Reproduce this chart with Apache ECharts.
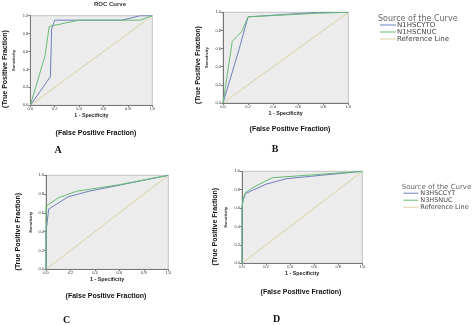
<!DOCTYPE html>
<html><head><meta charset="utf-8">
<script src="https://cdn.jsdelivr.net/npm/echarts@6/dist/echarts.min.js"></script>
<style>html,body{margin:0;padding:0;background:#fff}#c{width:474px;height:325px}</style>
</head><body><div id="c"></div>
<script>
// ---- data ----
const tickValues = [0, 0.2, 0.4, 0.6, 0.8, 1.0];
const refX = [0, 1];
const refY = [0, 1];
// Panel A
const aCytoX = [0, 0.165, 0.175, 0.2, 0.75, 0.9, 1];
const aCytoY = [0, 0.32, 0.85, 0.95, 0.95, 1, 1];
const aNucX = [0, 0.12, 0.155, 0.19, 0.4, 0.9, 0.9, 1];
const aNucY = [0, 0.55, 0.88, 0.89, 0.95, 0.95, 0.97, 1];
// Panel B
const bCytoX = [0, 0.13, 0.2, 0.76, 1];
const bCytoY = [0, 0.6, 0.95, 1, 1];
const bNucX = [0, 0.074, 0.15, 0.2, 0.76, 1];
const bNucY = [0, 0.68, 0.79, 0.95, 0.99, 1];
// Panel C
const cCytoX = [0, 0, 0.022, 0.18, 0.35, 1];
const cCytoY = [0, 0.4, 0.64, 0.77, 0.83, 1];
const cNucX = [0, 0, 0.1, 0.25, 0.6, 1];
const cNucY = [0, 0.67, 0.76, 0.83, 0.9, 1];
// Panel D
const dCytoX = [0, 0, 0.01, 0.03, 0.05, 0.2, 0.37, 1];
const dCytoY = [0, 0.62, 0.69, 0.76, 0.77, 0.86, 0.92, 1];
const dNucX = [0, 0, 0.01, 0.03, 0.1, 0.25, 1];
const dNucY = [0, 0.6, 0.7, 0.77, 0.83, 0.93, 1];
const legend1 = ['N1HSCYTO', 'N1HSCNUC', 'Reference Line'];
const legend2 = ['N3HSCCYT', 'N3HSNUC', 'Reference Line'];
const panelLetters = ['A', 'B', 'C', 'D'];

// ---- style ----
const BLUE = '#6f7fbd', GREEN = '#66bb74', REF = '#d9d0a3';
const zip = (xs, ys) => xs.map((x, i) => [x, ys[i]]);
const grids = [
  {left: 30.3, top: 15.7, width: 122, height: 89.6},
  {left: 223, top: 12.3, width: 125.3, height: 90.7},
  {left: 46, top: 175.3, width: 122.3, height: 94},
  {left: 242, top: 171.3, width: 120.3, height: 92}
];
const lblFont = {fontFamily: 'Liberation Sans, Arial', fontSize: 4, color: '#333'};
const axisCommon = i => ({
  type: 'value', gridIndex: i, min: 0, max: 1, interval: 0.2,
  axisLine: {show: true, lineStyle: {color: '#777', width: 1}},
  axisTick: {show: true, length: 2, lineStyle: {color: '#777'}},
  splitLine: {show: false},
  axisLabel: Object.assign({margin: 2, formatter: v => v.toFixed(1)}, lblFont),
  nameTextStyle: {fontFamily: 'Liberation Sans, Arial', fontWeight: 'bold', color: '#222'}
});
const xAxes = grids.map((g, i) => Object.assign(axisCommon(i), {
  name: '1 - Specificity', nameLocation: 'middle', nameGap: 8,
  nameTextStyle: {fontFamily: 'Liberation Sans, Arial', fontWeight: 'bold', fontSize: 5.3, color: '#222'}
}));
const yGaps = [14, 14, 13, 13.7];
const yAxes = grids.map((g, i) => Object.assign(axisCommon(i), {
  name: 'Sensitivity', nameLocation: 'middle', nameGap: yGaps[i], nameRotate: 90,
  nameTextStyle: {fontFamily: 'Liberation Sans, Arial', fontWeight: 'bold', fontSize: 4.2, color: '#222'}
}));
const panels = [
  [legend1, aCytoX, aCytoY, aNucX, aNucY],
  [legend1, bCytoX, bCytoY, bNucX, bNucY],
  [legend2, cCytoX, cCytoY, cNucX, cNucY],
  [legend2, dCytoX, dCytoY, dNucX, dNucY]
];
const series = [];
panels.forEach((p, i) => {
  const base = {type: 'line', xAxisIndex: i, yAxisIndex: i, showSymbol: false, symbol: 'none', animation: false, silent: true};
  series.push(Object.assign({}, base, {name: p[0][2], data: zip(refX, refY), lineStyle: {color: REF, width: 1}, itemStyle: {color: REF}, z: 1}));
  series.push(Object.assign({}, base, {name: p[0][0], data: zip(p[1], p[2]), lineStyle: {color: BLUE, width: 1}, itemStyle: {color: BLUE}, z: 2}));
  series.push(Object.assign({}, base, {name: p[0][1], data: zip(p[3], p[4]), lineStyle: {color: GREEN, width: 1}, itemStyle: {color: GREEN}, z: 3}));
});

const big = {fontFamily: 'Liberation Sans, Arial', fontWeight: 'bold', fontSize: 7, fill: '#111', textAlign: 'center', textVerticalAlign: 'middle'};
const letter = {fontFamily: 'Liberation Serif, Times New Roman', fontWeight: 'bold', fontSize: 10, fill: '#111', textAlign: 'center', textVerticalAlign: 'middle'};
const tpf = [[5, 69], [197.7, 65], [18.3, 231.7], [215, 226.7]];
const fpf = [[96, 133], [290, 129], [106, 296], [301, 292]];
const lts = [[58, 150], [275, 149], [66.7, 320], [276.7, 319.3]];
const graphics = [
  {type: 'text', x: 110, y: 4.5, style: {text: 'ROC Curve', fontFamily: 'Liberation Sans, Arial', fontWeight: 'bold', fontSize: 6, fill: '#333', textAlign: 'center', textVerticalAlign: 'middle'}},
  {type: 'text', x: 378, y: 19, style: {text: 'Source of the Curve', fontFamily: 'DejaVu Sans', fontSize: 8, fill: '#666', textAlign: 'left', textVerticalAlign: 'middle'}},
  {type: 'text', x: 401.7, y: 187, style: {text: 'Source of the Curve', fontFamily: 'DejaVu Sans', fontSize: 7, fill: '#666', textAlign: 'left', textVerticalAlign: 'middle'}}
];
tpf.forEach(p => graphics.push({type: 'text', x: p[0], y: p[1], rotation: Math.PI / 2, style: Object.assign({text: '(True Positive Fraction)'}, big)}));
fpf.forEach(p => graphics.push({type: 'text', x: p[0], y: p[1], style: Object.assign({text: '(False Positive Fraction)'}, big)}));
lts.forEach((p, i) => graphics.push({type: 'text', x: p[0], y: p[1], style: Object.assign({text: panelLetters[i]}, letter)}));

const chart = echarts.init(document.getElementById('c'), null, {renderer: 'canvas'});
chart.setOption({
  animation: false,
  backgroundColor: '#fff',
  grid: grids.map(g => Object.assign({show: true, backgroundColor: '#ececec', borderColor: '#c4c4c4', borderWidth: 1, containLabel: false}, g)),
  xAxis: xAxes,
  yAxis: yAxes,
  legend: [
    {data: legend1, orient: 'vertical', left: 380, top: 21.5, padding: 0, itemGap: 0, itemWidth: 16, itemHeight: 1, icon: 'rect', selectedMode: false,
     textStyle: {fontFamily: 'DejaVu Sans', fontSize: 7, color: '#444', lineHeight: 6.3, padding: [0, 0, 0, -4]}},
    {data: legend2, orient: 'vertical', left: 403.3, top: 189.7, padding: 0, itemGap: 0, itemWidth: 15, itemHeight: 1, icon: 'rect', selectedMode: false,
     textStyle: {fontFamily: 'DejaVu Sans', fontSize: 6.5, color: '#444', lineHeight: 6.3, padding: [0, 0, 0, -3]}}
  ],
  graphic: graphics,
  series: series
});
</script></body></html>
